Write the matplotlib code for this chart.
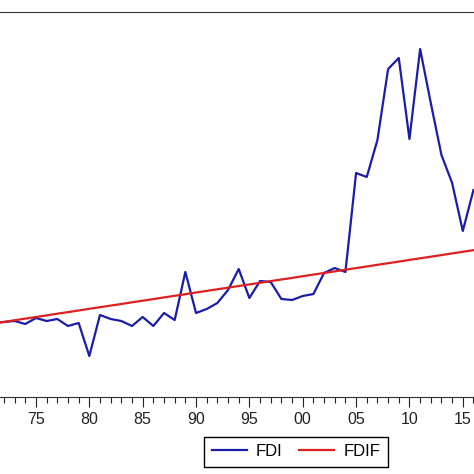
import matplotlib
matplotlib.use("Agg")
import matplotlib.pyplot as plt
from matplotlib.ticker import MultipleLocator, FuncFormatter

# years shown on the axis
years = list(range(1970, 2017))

# FDI series (arbitrary units, no y labels visible)
fdi = [7.3, 7.4, 7.5, 7.6, 7.3, 7.9, 7.6, 7.8, 7.1, 7.4,
       4.1, 8.2, 7.8, 7.6, 7.1, 8.0, 7.1, 8.4, 7.7, 12.5,
       8.4, 8.8, 9.4, 10.7, 12.8, 9.9, 11.6, 11.5, 9.8, 9.7,
       10.1, 10.3, 12.4, 12.9, 12.5, 22.4, 22.0, 25.7, 32.8, 33.9,
       25.8, 34.8, 29.4, 24.2, 21.4, 16.6, 20.7]

# fitted trend (straight red line)
fdif = [7.19, 7.35, 7.51, 7.67, 7.84, 8.00, 8.16, 8.33, 8.49, 8.65,
        8.82, 8.98, 9.14, 9.30, 9.47, 9.63, 9.79, 9.96, 10.12, 10.28,
        10.45, 10.61, 10.77, 10.93, 11.10, 11.26, 11.42, 11.59, 11.75, 11.91,
        12.08, 12.24, 12.40, 12.56, 12.73, 12.89, 13.05, 13.22, 13.38, 13.54,
        13.71, 13.87, 14.03, 14.19, 14.36, 14.52, 14.68]

plt.rcParams['font.family'] = ['Liberation Sans', 'DejaVu Sans']

fig = plt.figure(figsize=(4.74, 4.74), dpi=100)
ax = fig.add_axes([0.0, 1 - 397 / 474, 1.0, (397 - 12) / 474])

ax.plot(years, fdi, color='#1c1caa', lw=1.6, label='FDI')
ax.plot(years, fdif, color='#dd2020', lw=1.6, label='FDIF')

ax.set_xlim(1971.63, 2016.05)
ax.set_ylim(0, 38.5)

ax.spines['left'].set_visible(False)
ax.spines['right'].set_visible(False)
ax.spines['top'].set_color('#333333')
ax.spines['bottom'].set_color('#333333')

ax.xaxis.set_major_locator(MultipleLocator(5))
ax.xaxis.set_minor_locator(MultipleLocator(1))
ax.xaxis.set_major_formatter(FuncFormatter(lambda v, p: '%02d' % (int(round(v)) % 100)))
ax.tick_params(axis='x', which='major', length=7, width=0.8, labelsize=11.5, pad=4, colors='#222222')
ax.tick_params(axis='x', which='minor', length=4, width=0.8, colors='#222222')
ax.set_yticks([])

fig.legend(loc='center', bbox_to_anchor=(296 / 474, 1 - 451.5 / 474), ncol=2,
           fancybox=False, edgecolor='black', framealpha=1, fontsize=12,
           handlelength=2.1, handletextpad=0.55, columnspacing=1.0,
           borderpad=0.45, borderaxespad=0)

fig.savefig('out.png', dpi=100)
